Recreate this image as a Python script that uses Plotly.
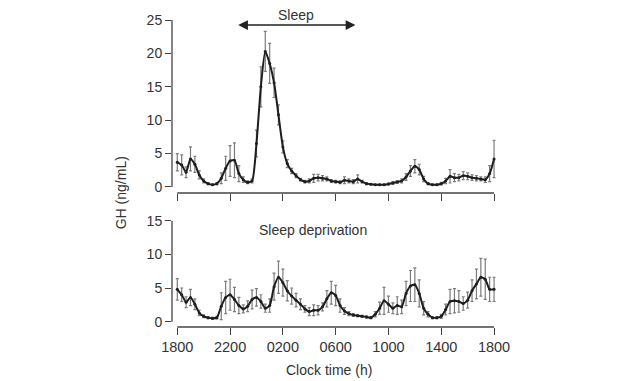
import plotly.graph_objects as go

# sampling grid: minutes after 18:00, every 20 min over 24 h
minutes = list(range(0, 1441, 20))
hours = [m / 60 for m in minutes]

tick_hours = [0, 4, 8, 12, 16, 20, 24]
tick_labels = ["1800", "2200", "0200", "0600", "1000", "1400", "1800"]

gh_sleep = [3.7, 3.3, 2.2, 4.2, 3.4, 1.8, 0.9, 0.5, 0.35, 0.5,
            1.3, 2.8, 3.9, 4.0, 2.0, 1.1, 0.7, 0.9, 6.5, 15.0,
            20.3, 18.5, 15.6, 10.8, 6.0, 3.5, 2.4, 1.7, 1.1, 0.8,
            0.9, 1.3, 1.4, 1.3, 1.2, 0.9, 0.8, 0.7, 1.0, 0.9,
            0.8, 1.2, 0.8, 0.5, 0.4, 0.35, 0.35, 0.35, 0.45, 0.6,
            0.75, 0.9, 1.5, 2.4, 3.1, 2.6, 1.2, 0.5, 0.35, 0.35,
            0.5, 0.9, 1.6, 1.4, 1.4, 1.7, 1.6, 1.4, 1.3, 1.2,
            1.1, 2.0, 4.2]
err_sleep = [1.3, 1.5, 0.8, 1.8, 1.2, 0.6, 0.3, 0.15, 0.1, 0.15,
             0.8, 1.8, 2.3, 2.6, 1.2, 0.4, 0.2, 0.3, 2.0, 3.0,
             3.0, 3.0, 2.2, 1.5, 0.9, 0.6, 0.4, 0.3, 0.2, 0.2,
             0.3, 0.6, 0.5, 0.4, 0.3, 0.2, 0.2, 0.2, 0.5, 0.3,
             0.3, 0.6, 0.2, 0.15, 0.1, 0.1, 0.1, 0.1, 0.15, 0.2,
             0.2, 0.3, 0.5, 0.8, 1.0, 0.8, 0.4, 0.15, 0.1, 0.1,
             0.2, 0.4, 1.0, 0.6, 0.5, 0.6, 0.5, 0.4, 0.4, 0.3,
             0.4, 1.2, 2.8]

gh_deprived = [4.8, 4.0, 2.9, 3.6, 2.6, 1.3, 0.8, 0.6, 0.5, 0.6,
               2.3, 3.6, 4.0, 3.3, 2.4, 1.9, 2.3, 3.3, 3.6, 3.0,
               2.0, 2.4, 5.2, 6.6, 5.8, 4.6, 3.8, 3.2, 2.6, 1.9,
               1.5, 1.7, 1.7, 2.2, 3.4, 4.3, 3.9, 2.4, 1.6, 1.2,
               1.0, 0.9, 0.8, 0.7, 0.6, 1.1, 2.0, 3.1, 2.6, 2.0,
               2.4, 2.2, 4.2, 5.3, 5.5, 4.2, 2.0, 1.1, 0.6, 0.6,
               0.8, 1.8, 3.0, 3.1, 3.0, 2.7, 3.2, 4.6, 5.6, 6.6,
               6.3, 4.8, 4.8]
err_deprived = [1.6, 1.0, 0.8, 1.2, 0.8, 0.4, 0.2, 0.15, 0.15, 0.2,
                2.0, 2.4, 2.3, 1.8, 1.2, 0.6, 0.8, 1.4, 1.3, 1.0,
                0.6, 1.0, 2.0, 2.4, 2.0, 1.5, 1.2, 1.0, 0.8, 0.5,
                0.6, 0.8, 0.7, 0.6, 1.2, 1.7, 1.5, 1.0, 0.5, 0.3,
                0.2, 0.15, 0.15, 0.15, 0.15, 0.4, 0.9, 2.0, 1.2, 0.8,
                1.3, 1.0, 1.8, 2.3, 2.5, 2.0, 1.0, 0.4, 0.15, 0.15,
                0.3, 0.8, 1.8, 1.8, 1.6, 1.0, 1.2, 1.6, 2.2, 2.8,
                3.0, 1.8, 1.8]

sleep_start, sleep_end = 4.5, 13.5  # hours after 18:00

FONT = "Liberation Sans, Arial, sans-serif"
AX = "#444444"

fig = go.Figure()
for ys, es, xa, ya in [(gh_sleep, err_sleep, "x", "y"),
                       (gh_deprived, err_deprived, "x2", "y2")]:
    fig.add_trace(go.Scatter(
        x=hours, y=ys, xaxis=xa, yaxis=ya, mode="lines+markers",
        line=dict(color="#1e1e1e", width=2, shape="spline", smoothing=0.6),
        marker=dict(size=3, color="#1e1e1e"),
        error_y=dict(type="data", array=es, visible=True,
                     color="#7c7c7c", thickness=1.2, width=1.5),
        cliponaxis=False, showlegend=False))

xcommon = dict(range=[-0.40, 24.3], tickvals=tick_hours, ticks="outside",
               ticklen=7, tickwidth=1.2, tickcolor=AX, showgrid=False,
               zeroline=False, showline=False)
fig.update_layout(
    width=640, height=381,
    margin=dict(l=172, r=142, t=20, b=54),
    paper_bgcolor="white", plot_bgcolor="white",
    font=dict(family=FONT, size=14, color="#333333"),
    xaxis=dict(**xcommon, showticklabels=False, anchor="y"),
    yaxis=dict(domain=[0.4365, 1], range=[-0.9, 25], tickvals=[0, 5, 10, 15, 20, 25],
               ticks="outside", ticklen=6, tickwidth=1.2, tickcolor=AX,
               showgrid=False, zeroline=False, showline=False, anchor="x"),
    xaxis2=dict(**xcommon, ticktext=tick_labels, anchor="y2",
                tickfont=dict(size=14.5, color="#333333")),
    yaxis2=dict(domain=[0, 0.3463], range=[-0.79, 15], tickvals=[0, 5, 10, 15],
                ticks="outside", ticklen=6, tickwidth=1.2, tickcolor=AX,
                showgrid=False, zeroline=False, showline=False, anchor="x2"),
)

# offset axis lines (Prism style)
for xr, yr, top in [("x", "y", 25), ("x2", "y2", 15)]:
    fig.add_shape(type="line", xref=xr, yref=yr + " domain", x0=0, x1=24, y0=0, y1=0,
                  line=dict(color=AX, width=1.3))
    fig.add_shape(type="line", xref=xr + " domain", yref=yr, x0=0, x1=0, y0=0, y1=top,
                  line=dict(color=AX, width=1.3))

# sleep arrow
fig.add_annotation(x=sleep_end, y=24.25, ax=sleep_start, ay=24.25, xref="x", yref="y",
                   axref="x", ayref="y", text="", showarrow=True,
                   arrowhead=2, startarrowhead=2, arrowside="end+start",
                   arrowsize=1.3, startarrowsize=1.3, arrowwidth=1.5, arrowcolor="#222222")
fig.add_annotation(x=(sleep_start + sleep_end) / 2, y=1.016, xref="x", yref="paper",
                   yanchor="middle", xanchor="center",
                   text="Sleep", showarrow=False, font=dict(size=14, color="#333333"))
fig.add_annotation(x=10.26, y=13.6, xref="x2", yref="y2", text="Sleep deprivation",
                   showarrow=False, font=dict(size=14, color="#333333"))
fig.add_annotation(x=-0.156, y=0.436, xref="paper", yref="paper", text="GH (ng/mL)",
                   xanchor="center", yanchor="middle",
                   textangle=-90, showarrow=False, font=dict(size=14, color="#333333"))
fig.add_annotation(x=0.482, y=-0.141, xref="paper", yref="paper", text="Clock time (h)",
                   xanchor="center", yanchor="middle",
                   showarrow=False, font=dict(size=14, color="#333333"))

fig.write_html("out.html", post_script="document.body.style.margin='0';",
               config={"displayModeBar": False})
